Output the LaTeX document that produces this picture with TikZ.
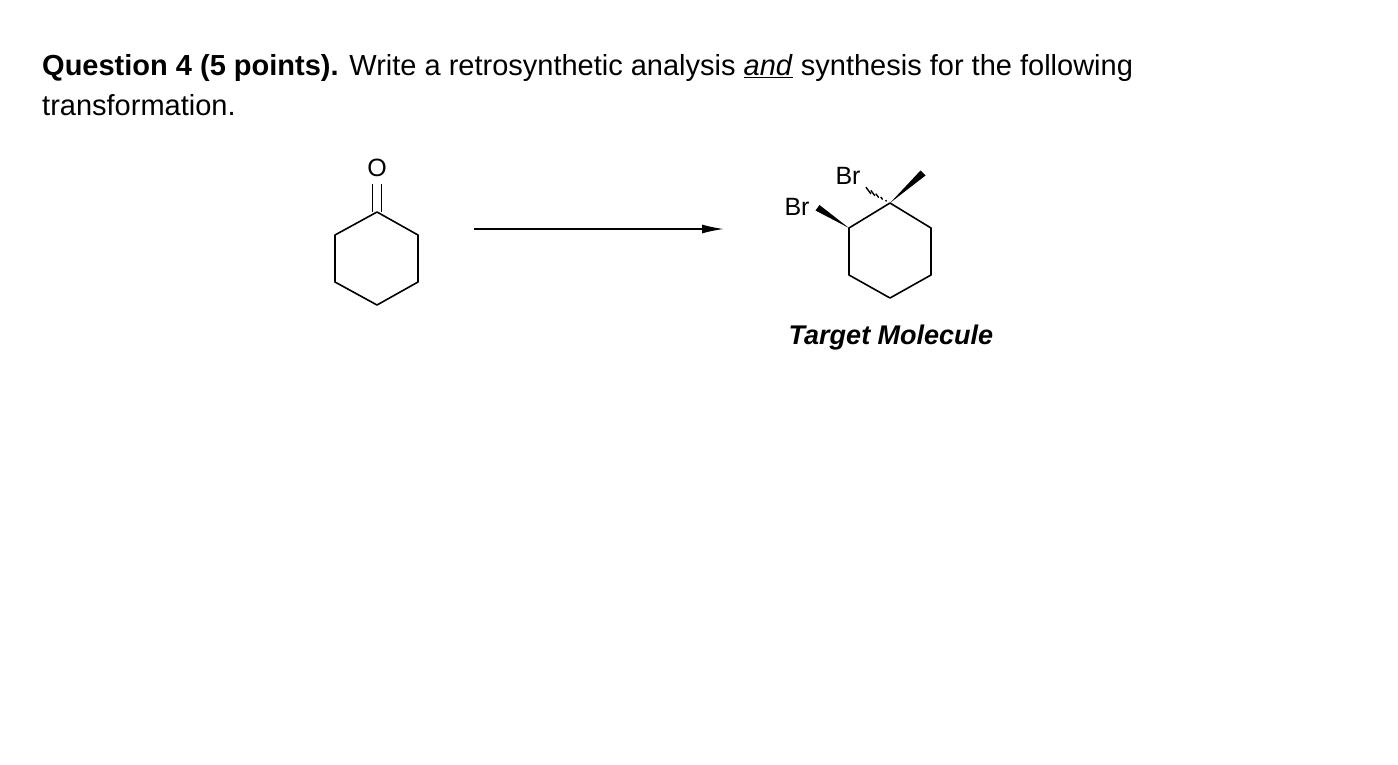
\documentclass[tikz,border=0pt]{standalone}
\usetikzlibrary{arrows.meta,calc}
\usepackage{fontspec}
\setmainfont{Liberation Sans}
\begin{document}
\begin{tikzpicture}[x=1pt,y=-1pt,bond/.style={line width=1.6pt,line join=round},
 lbl/.style={inner sep=0pt,font=\fontsize{25}{28}\selectfont}]
\useasboundingbox (0,0) rectangle (1398,764);
\node[anchor=base west,inner sep=0pt,font=\fontsize{29}{33}\selectfont] (t1) at (42,75) {\textbf{Question 4 (5 points).} Write a retrosynthetic analysis \underline{\textit{and}} synthesis for the following};
\node[anchor=base west,inner sep=0pt,font=\fontsize{29}{33}\selectfont] (t2) at (42,115) {transformation.};
% cyclohexanone
\draw[bond] (377,212)--(418,235)--(418,282)--(377,305)--(335,282)--(335,235)--cycle;
\draw[bond] (372.5,184)--(372.5,212) (381.5,184)--(381.5,212);
\node[lbl] (O) at (377,168) {O};
% arrow
\coordinate (a1) at (474,229); \coordinate (a2) at (724,229);
\draw[line width=1.6pt,-{Latex[length=22pt,width=9pt]}] (a1)--(a2);
% target
\draw[bond] (890,203)--(931,228)--(931,275)--(890,298)--(849,275)--(849,228)--cycle;
\fill (890,203)--(920.5,170.5)--(925.5,175.5)--cycle;
\fill (849,228)--(815.5,210.5)--(819.5,205)--cycle;
\foreach \t in {0.15,0.32,0.49,0.66,0.83}{
  \draw[line width=1.4pt] ($(890,203)!\t!(864,188)+(-\t*3,-\t*4)$)--($(890,203)!\t!(864,188)+(\t*3,\t*4)$);
}
\node[lbl] (Br1) at (797,207) {Br};
\node[lbl] (Br2) at (848,176) {Br};
\node[anchor=base,inner sep=0pt,font=\fontsize{27}{30}\selectfont\bfseries\itshape] (tm) at (891,344) {Target Molecule};
\end{tikzpicture}
\end{document}
